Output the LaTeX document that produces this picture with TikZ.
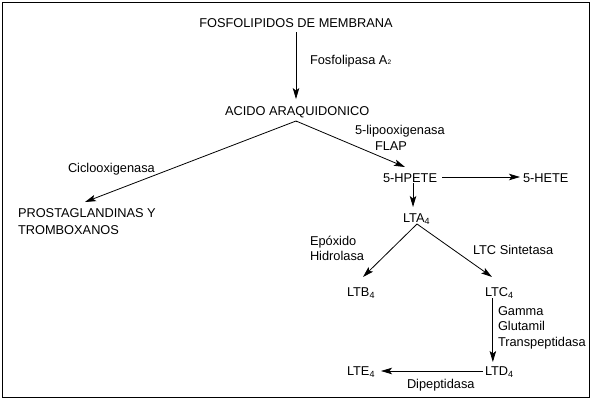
\documentclass[tikz,border=0pt]{standalone}
\usepackage{fontspec}
\setmainfont{Liberation Sans}
\usetikzlibrary{arrows.meta,calc}
\newcommand{\mysub}[1]{\textsubscript{#1}}
\begin{document}
\begin{tikzpicture}[x=1pt,y=-1pt,
  lbl/.style={inner sep=0pt, outer sep=0pt, font=\fontsize{12.8}{15}\selectfont},
  arr/.style={-{Stealth[length=11pt,width=6.5pt,inset=2.5pt]}, line width=0.8pt},
  frame/.style={line width=1pt}]
\useasboundingbox (0,0) rectangle (592,402);
\draw[frame] (2.5,2.5) rectangle (589.5,397.5);

\node[lbl, anchor=base] (fosfo) at (296,27) {FOSFOLIPIDOS DE MEMBRANA};
\node[lbl, anchor=base west] (fla2) at (310,64) {Fosfolipasa A{\fontsize{6.5}{6.5}\selectfont 2}};
\node[lbl, anchor=base west] (acido) at (225,115) {ACIDO ARAQUIDONICO};
\node[lbl, anchor=base west] (ciclo) at (68,172) {Ciclooxigenasa};
\node[lbl, anchor=base west] (pg1) at (18,217) {PROSTAGLANDINAS Y};
\node[lbl, anchor=base west] (pg2) at (18,234) {TROMBOXANOS};
\node[lbl, anchor=base west] (lipo) at (355,134) {5-lipooxigenasa};
\node[lbl, anchor=base west] (flap) at (375,150) {FLAP};
\node[lbl, anchor=base west] (hpete) at (383,182) {5-HPETE};
\node[lbl, anchor=base west] (hete) at (523,182) {5-HETE};
\node[lbl, anchor=base west] (lta) at (403,222) {LTA\mysub{4}};
\node[lbl, anchor=base west] (epo) at (310,245) {Epóxido};
\node[lbl, anchor=base west] (hidro) at (310,260) {Hidrolasa};
\node[lbl, anchor=base west] (ltcs) at (473,254) {LTC Sintetasa};
\node[lbl, anchor=base west] (ltb) at (347,296) {LTB\mysub{4}};
\node[lbl, anchor=base west] (ltc) at (485,296) {LTC\mysub{4}};
\node[lbl, anchor=base west] (gamma) at (498,315) {Gamma};
\node[lbl, anchor=base west] (glut) at (498,330) {Glutamil};
\node[lbl, anchor=base west] (trans) at (498,346) {Transpeptidasa};
\node[lbl, anchor=base west] (ltd) at (485,375) {LTD\mysub{4}};
\node[lbl, anchor=base west] (lte) at (347,375) {LTE\mysub{4}};
\node[lbl, anchor=base west] (dipep) at (407,388) {Dipeptidasa};

\coordinate (apex1) at (296,121);
\coordinate (apex2) at (417,224);

\draw[arr] ([yshift=-5pt]fosfo.south) -- ([yshift=7pt]fosfo.south |- acido.north);
\draw[line width=0.8pt] ([yshift=-5pt]acido.south -| apex1) -- (apex1);
\draw[arr] (apex1) -- (85,202);
\draw[arr] (apex1) -- (405,167);
\draw[arr] ([shift={(5,-5)}]hpete.base east) -- ([shift={(-3,-5)}]hete.base west);
\draw[arr] ([shift={(3,1)}]hpete.south) -- ([shift={(3,1)}]hpete.south |- 0,206);
\draw[arr] (apex2) -- (363,277);
\draw[arr] (apex2) -- (492,277);
\draw[arr] ([xshift=-6.5pt]ltc.south) -- ([xshift=-6.5pt]ltc.south |- 0,362);
\draw[arr] ([shift={(-2,-4)}]ltd.base west) -- ([shift={(6,-4)}]lte.base east);
\end{tikzpicture}
\end{document}
